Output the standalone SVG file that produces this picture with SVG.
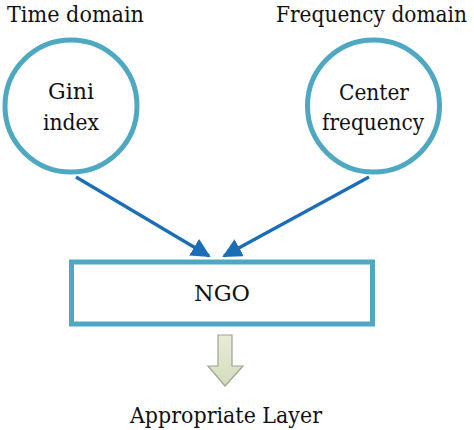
<svg xmlns="http://www.w3.org/2000/svg" width="474" height="430" viewBox="0 0 474 430">
<style>
text{fill:#111;font-family:"DejaVu Serif","Liberation Serif",serif;font-size:22px;}
.in{text-anchor:middle;}
.node{fill:#fff;stroke:#4ea8c2;stroke-width:5;}
.conn{stroke:#1b6db8;stroke-width:3.2;fill:none;}
</style>
<defs>
<marker id="ah" viewBox="0 0 10 10" refX="9" refY="5" markerWidth="6" markerHeight="6" orient="auto" markerUnits="strokeWidth">
<path d="M0,0 L10,5 L0,10 Z" fill="#1b6db8"/>
</marker>
<linearGradient id="gg" x1="0" y1="0" x2="0" y2="1">
<stop offset="0" stop-color="#e6ecd6"/>
<stop offset="1" stop-color="#d4ddbe"/>
</linearGradient>
</defs>
<rect width="474" height="430" fill="#fff"/>
<text x="7" y="22" textLength="137" lengthAdjust="spacingAndGlyphs">Time domain</text>
<text x="467" y="22" text-anchor="end" textLength="191" lengthAdjust="spacingAndGlyphs">Frequency domain</text>
<g id="gini">
<circle class="node" cx="71" cy="106" r="66"/>
<text class="in" x="71" y="99" textLength="46" lengthAdjust="spacingAndGlyphs">Gini</text>
<text class="in" x="71" y="130" textLength="56" lengthAdjust="spacingAndGlyphs">index</text>
</g>
<g id="center">
<circle class="node" cx="373.5" cy="106" r="66"/>
<text class="in" x="374" y="100" textLength="70" lengthAdjust="spacingAndGlyphs">Center</text>
<text class="in" x="373" y="130" textLength="102" lengthAdjust="spacingAndGlyphs">frequency</text>
</g>
<g id="ngo">
<rect class="node" x="71.5" y="262" width="301" height="62"/>
<text class="in" x="222" y="301" textLength="56" lengthAdjust="spacingAndGlyphs">NGO</text>
</g>
<g id="connectors">
<line class="conn" x1="76" y1="177" x2="209" y2="256" marker-end="url(#ah)"/>
<line class="conn" x1="369" y1="177" x2="224" y2="256" marker-end="url(#ah)"/>
<path d="M218,335 L232,335 L232,366 L243,366 L225,386 L208,366 L218,366 Z" fill="url(#gg)" stroke="#9ba68a" stroke-width="1.2"/>
</g>
<g id="result">
<text class="in" x="226" y="423" textLength="192" lengthAdjust="spacingAndGlyphs">Appropriate Layer</text>
</g>
</svg>
